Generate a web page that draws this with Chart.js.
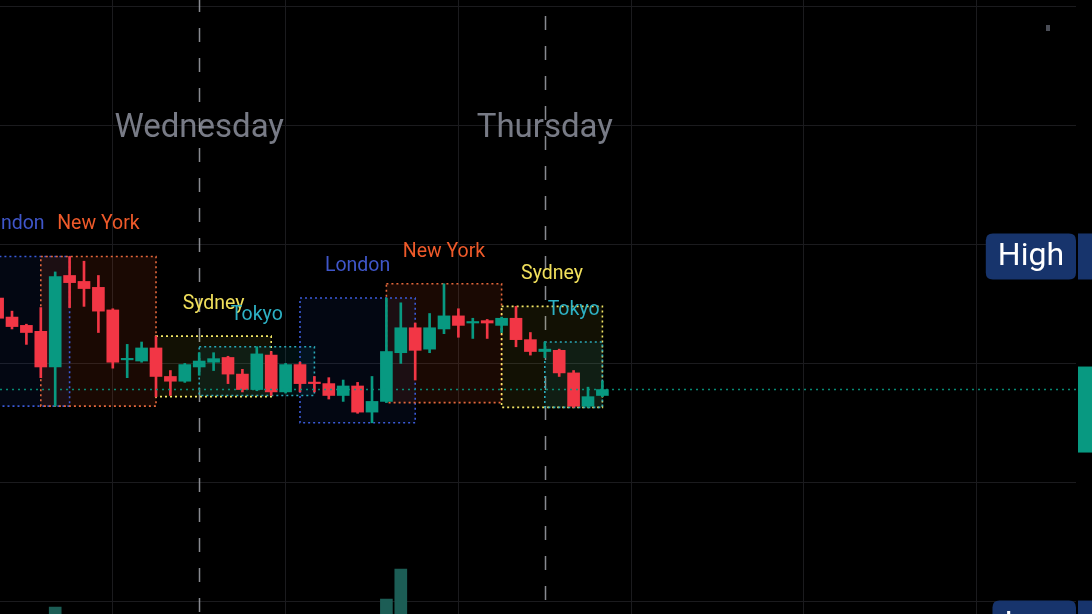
<!DOCTYPE html>
<html lang="en">
  <head>
    <meta charset="UTF-8" />
    <title>Sesiones</title>
    <script src="https://cdn.jsdelivr.net/npm/chart.js"></script>
    <style>
      html,
      body {
        margin: 0;
        padding: 0;
        background: #000;
      }
      #wrap {
        width: 1092px;
        height: 614px;
        position: relative;
      }
    </style>
  </head>
  <body>
    <div id="wrap"><canvas id="grafica"></canvas></div>
    <script>
      // velas horarias (indice 0 = primera vela visible, cortada a la izquierda)
      const opens = [
        2025.5, 2023.9, 2023.2, 2022.7, 2019.7, 2027.4, 2026.9, 2026.4, 2024.5, 2020.3,
        2020.2, 2021.3, 2018.9, 2018.5, 2019.7, 2020.1, 2020.5, 2019.1, 2017.8, 2020.7,
        2017.6, 2019.9, 2018.4, 2018.3, 2017.3, 2018.1, 2015.9, 2016.8, 2020.9, 2023.0,
        2021.2, 2022.9, 2024.0, 2023.4, 2023.6, 2023.2, 2023.8, 2022.0, 2021.0, 2021.1,
        2019.2, 2016.4, 2017.3,
      ];
      const highs = [
        2026.0, 2024.4, 2023.3, 2024.7, 2027.7, 2029.0, 2028.6, 2027.4, 2024.6, 2021.6,
        2021.8, 2022.3, 2019.4, 2020.0, 2020.9, 2020.9, 2020.6, 2019.5, 2021.4, 2021.0,
        2020.0, 2020.1, 2018.9, 2018.8, 2018.6, 2018.4, 2018.9, 2025.5, 2025.1, 2023.4,
        2024.2, 2026.7, 2024.6, 2023.8, 2023.7, 2023.9, 2024.8, 2022.6, 2021.8, 2021.2,
        2019.4, 2018.0, 2018.5,
      ];
      const lows = [
        2023.2, 2022.9, 2021.6, 2018.8, 2016.4, 2024.7, 2024.8, 2022.6, 2019.6, 2018.8,
        2020.1, 2017.2, 2017.3, 2018.4, 2019.0, 2019.4, 2018.3, 2017.6, 2017.7, 2017.3,
        2017.5, 2017.6, 2017.6, 2017.0, 2016.8, 2015.8, 2015.0, 2016.7, 2020.0, 2018.6,
        2020.9, 2022.5, 2022.2, 2022.1, 2022.1, 2022.6, 2021.4, 2020.7, 2020.5, 2018.9,
        2016.3, 2016.3, 2017.2,
      ];
      const closes = [
        2023.8, 2023.1, 2022.6, 2019.7, 2027.3, 2026.8, 2026.3, 2024.4, 2020.1, 2020.4,
        2021.3, 2018.9, 2018.5, 2019.9, 2020.2, 2020.4, 2019.1, 2017.8, 2020.8, 2017.6,
        2019.9, 2018.3, 2018.3, 2017.3, 2018.1, 2015.9, 2016.8, 2021.0, 2023.0, 2021.1,
        2023.0, 2024.0, 2023.2, 2023.5, 2023.4, 2023.8, 2022.0, 2021.0, 2021.2, 2019.2,
        2016.4, 2017.2, 2017.8,
      ];
      // solo se ven las puntas de tres barras de volumen
      const volumes = [
        null, null, null, null, 4090, null, null, null, null, null,
        null, null, null, null, null, null, null, null, null, null,
        null, null, null, null, null, null, null, 4195, 4585, null,
        null, null, null, null, null, null, null, null, null, null,
        null, null, null,
      ];

      const xGridIdx = [8, 20, 32, 44, 56, 68];
      const yTicks = [2000, 2010, 2020, 2030, 2040, 2050];

      const dayNames = ["Wednesday", "Thursday"];
      const dayStartIdx = [14, 38];

      const sessionNames = ["London", "New York", "Sydney", "Tokyo", "London", "New York", "Sydney", "Tokyo"];
      const sessionStart = [-3, 3, 11, 14, 21, 27, 35, 38];
      const sessionEnd = [5, 11, 19, 22, 29, 35, 43, 46];

      const dayLow = 1998.1;

      const UP = "#089981";
      const DOWN = "#f23645";
      const GRID = "#1b1b1e";

      const sessionStyle = {
        London: { line: "#3b5bd8", fill: "rgba(41, 98, 255, 0.07)", text: "#3f56c9" },
        "New York": { line: "#e5683c", fill: "rgba(255, 87, 34, 0.1)", text: "#ef5a2a" },
        Sydney: { line: "#f3e766", fill: "rgba(255, 235, 59, 0.07)", text: "#f1e05c" },
        Tokyo: { line: "#2aa9ba", fill: "rgba(0, 188, 212, 0.08)", text: "#2db1c4" },
      };

      const lastIdx = closes.length - 1;

      function candleColor(i) {
        return closes[i] >= opens[i] ? UP : DOWN;
      }

      function roundRect(ctx, x, y, w, h, r) {
        ctx.beginPath();
        ctx.moveTo(x + r, y);
        ctx.lineTo(x + w - r, y);
        ctx.quadraticCurveTo(x + w, y, x + w, y + r);
        ctx.lineTo(x + w, y + h - r);
        ctx.quadraticCurveTo(x + w, y + h, x + w - r, y + h);
        ctx.lineTo(x + r, y + h);
        ctx.quadraticCurveTo(x, y + h, x, y + h - r);
        ctx.lineTo(x, y + r);
        ctx.quadraticCurveTo(x, y, x + r, y);
        ctx.closePath();
      }

      // cajas de sesiones calculadas con max/min de las velas
      function sessionBox(s) {
        var from = Math.max(sessionStart[s], 0);
        var to = Math.min(sessionEnd[s], lastIdx);
        var hi = -Infinity;
        var lo = Infinity;
        for (var i = from; i <= to; i++) {
          hi = Math.max(hi, highs[i]);
          lo = Math.min(lo, lows[i]);
        }
        return { x0: sessionStart[s], x1: to, hi: hi, lo: lo };
      }

      const overlayPlugin = {
        id: "overlay",
        beforeDatasetsDraw(chart) {
          const ctx = chart.ctx;
          const xs = chart.scales.x;
          const ys = chart.scales.y;
          const area = chart.chartArea;
          ctx.save();
          ctx.beginPath();
          ctx.rect(area.left, area.top, area.right - area.left, area.bottom - area.top);
          ctx.clip();

          // nombres de los dias
          ctx.font = "33px Roboto";
          ctx.fillStyle = "#787b86";
          ctx.textAlign = "center";
          ctx.textBaseline = "alphabetic";
          for (var d = 0; d < dayNames.length; d++) {
            ctx.fillText(dayNames[d], xs.getPixelForValue(dayStartIdx[d]), ys.getPixelForValue(2040) + 11);
          }

          // separadores de dia
          ctx.strokeStyle = "rgba(160, 162, 170, 0.85)";
          ctx.lineWidth = 1.5;
          ctx.setLineDash([14, 16]);
          var offsets = [2, 14];
          for (var d = 0; d < dayStartIdx.length; d++) {
            var px = Math.round(xs.getPixelForValue(dayStartIdx[d])) + 0.5;
            ctx.lineDashOffset = offsets[d];
            ctx.beginPath();
            ctx.moveTo(px, area.top);
            ctx.lineTo(px, area.bottom);
            ctx.stroke();
          }
          ctx.lineDashOffset = 0;

          // rellenos y bordes de las sesiones
          for (var s = 0; s < sessionNames.length; s++) {
            var b = sessionBox(s);
            var st = sessionStyle[sessionNames[s]];
            var left = xs.getPixelForValue(b.x0);
            var right = xs.getPixelForValue(b.x1);
            var top = ys.getPixelForValue(b.hi);
            var bottom = ys.getPixelForValue(b.lo);
            ctx.fillStyle = st.fill;
            ctx.fillRect(left, top, right - left, bottom - top);
          }
          ctx.lineWidth = 1.6;
          ctx.setLineDash([2, 3]);
          for (var s = 0; s < sessionNames.length; s++) {
            var b = sessionBox(s);
            var st = sessionStyle[sessionNames[s]];
            var left = xs.getPixelForValue(b.x0);
            var right = xs.getPixelForValue(b.x1);
            var top = ys.getPixelForValue(b.hi);
            var bottom = ys.getPixelForValue(b.lo);
            ctx.strokeStyle = st.line;
            ctx.strokeRect(left, top, right - left, bottom - top);
          }
          ctx.restore();
        },
        afterDatasetsDraw(chart) {
          const ctx = chart.ctx;
          const xs = chart.scales.x;
          const ys = chart.scales.y;
          const area = chart.chartArea;
          ctx.save();

          // linea del precio actual
          var lastY = ys.getPixelForValue(closes[lastIdx]);
          ctx.strokeStyle = "rgba(8, 153, 129, 0.9)";
          ctx.lineWidth = 1.5;
          ctx.setLineDash([2, 4]);
          ctx.beginPath();
          ctx.moveTo(area.left, lastY);
          ctx.lineTo(area.right, lastY);
          ctx.stroke();
          ctx.setLineDash([]);

          // etiquetas de las sesiones
          ctx.font = "19.5px Roboto";
          ctx.textAlign = "center";
          ctx.textBaseline = "alphabetic";
          for (var s = 0; s < sessionNames.length; s++) {
            var b = sessionBox(s);
            var cx = (xs.getPixelForValue(b.x0) + xs.getPixelForValue(b.x1)) / 2;
            ctx.fillStyle = sessionStyle[sessionNames[s]].text;
            ctx.fillText(sessionNames[s], cx, ys.getPixelForValue(b.hi) - 27);
          }

          // marcas High / Low
          var maxHigh = Math.max.apply(null, highs);
          var tags = [
            { text: "High", value: maxHigh },
            { text: "Low", value: dayLow },
          ];
          ctx.font = "32px Roboto";
          ctx.textBaseline = "middle";
          for (var t = 0; t < tags.length; t++) {
            var cy = ys.getPixelForValue(tags[t].value);
            var w = ctx.measureText(tags[t].text).width + 24;
            ctx.fillStyle = "#17346c";
            roundRect(ctx, area.right - w, cy - 23, w, 46, 7);
            ctx.fill();
            ctx.fillRect(area.right + 2, cy - 23, chart.width - area.right, 46);
            ctx.fillStyle = "#ffffff";
            ctx.fillText(tags[t].text, area.right - w / 2, cy + 1);
          }

          // etiqueta del precio en el eje
          ctx.fillStyle = UP;
          ctx.fillRect(area.right + 2, lastY - 23, chart.width - area.right, 86);

          // pequeño indicador arriba a la derecha
          ctx.fillStyle = "#4a4d56";
          ctx.fillRect(1046, 25, 4, 6);
          ctx.restore();
        },
      };

      const ctx = document.getElementById("grafica").getContext("2d");

      new Chart(ctx, {
        type: "bar",
        data: {
          datasets: [
            {
              label: "cuerpo",
              data: opens.map(function (o, i) {
                return { x: i, y: [Math.min(o, closes[i]), Math.max(o, closes[i])] };
              }),
              backgroundColor: opens.map(function (o, i) {
                return candleColor(i);
              }),
              barThickness: 12,
              minBarLength: 1.5,
              grouped: false,
              order: 0,
            },
            {
              label: "mecha",
              data: highs.map(function (h, i) {
                return { x: i, y: [lows[i], h] };
              }),
              backgroundColor: opens.map(function (o, i) {
                return candleColor(i);
              }),
              barThickness: 2,
              grouped: false,
              order: 1,
            },
            {
              label: "volumen",
              data: volumes
                .map(function (v, i) {
                  return { x: i, y: v };
                })
                .filter(function (p) {
                  return p.y !== null;
                }),
              backgroundColor: "#1c5d55",
              barThickness: 12,
              grouped: false,
              yAxisID: "yVol",
              order: 2,
            },
          ],
        },
        options: {
          responsive: true,
          maintainAspectRatio: false,
          animation: false,
          layout: { padding: { right: 16 } },
          plugins: {
            legend: { display: false },
            tooltip: { enabled: false },
          },
          scales: {
            x: {
              type: "linear",
              offset: false,
              min: 0.1667,
              max: 74.889,
              afterBuildTicks: function (scale) {
                scale.ticks = xGridIdx.map(function (v) {
                  return { value: v };
                });
              },
              ticks: { display: false },
              grid: { color: GRID, drawTicks: false, offset: false },
              border: { display: false },
            },
            y: {
              position: "right",
              min: 1998.906,
              max: 2050.589,
              afterBuildTicks: function (scale) {
                scale.ticks = yTicks.map(function (v) {
                  return { value: v };
                });
              },
              ticks: { display: false },
              grid: { color: GRID, drawTicks: false },
              border: { display: false },
            },
            yVol: {
              display: false,
              min: 4000,
              max: 12000,
            },
          },
        },
        plugins: [overlayPlugin],
      });
    </script>
  </body>
</html>
